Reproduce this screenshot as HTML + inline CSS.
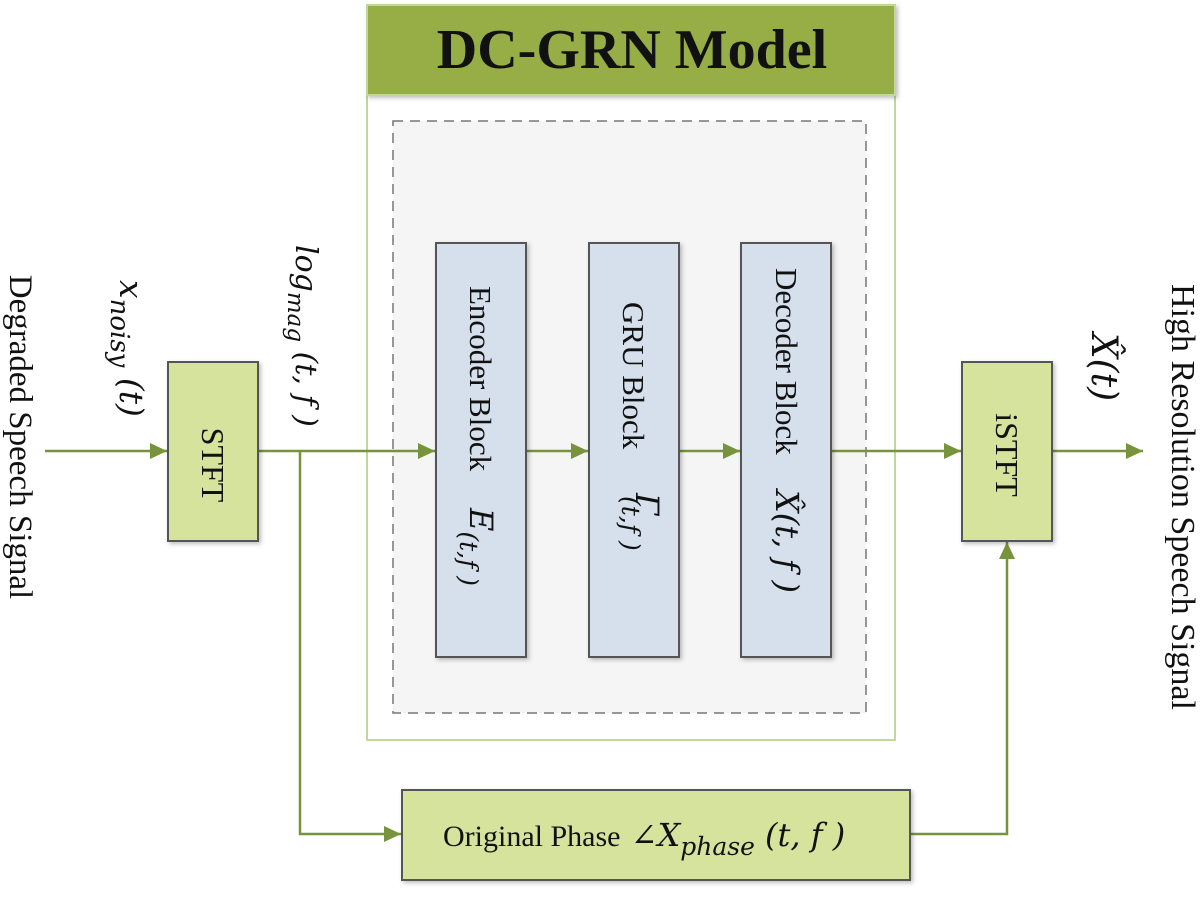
<!DOCTYPE html>
<html><head><meta charset="utf-8"><style>
html,body{margin:0;padding:0;background:#fff;}
svg{display:block;}
text{font-family:"Liberation Serif",serif;fill:#111;}
.m{font-family:"DejaVu Serif","Liberation Serif",serif;font-style:italic;}
</style></head><body>
<svg width="1200" height="897" viewBox="0 0 1200 897" xmlns="http://www.w3.org/2000/svg">
<defs>
<marker id="a" markerWidth="18" markerHeight="18" refX="17" refY="8" orient="auto" markerUnits="userSpaceOnUse">
<path d="M0,0 L17,8 L0,16 Z" fill="#77933c"/></marker>
<filter id="s" x="-10%" y="-10%" width="130%" height="130%"><feDropShadow dx="2" dy="2" stdDeviation="2" flood-color="#000" flood-opacity="0.25"/></filter>
</defs>
<rect x="367" y="95" width="528" height="645" fill="#fff" stroke="#c3d69b" stroke-width="2"/>
<rect x="367" y="5" width="528" height="90" fill="#97ad45" stroke="#c3d69b" stroke-width="2" filter="url(#s)"/>
<text x="632" y="68" font-size="56" font-weight="bold" text-anchor="middle">DC-GRN Model</text>
<rect x="393" y="121" width="473" height="592" fill="#f5f5f5" stroke="#777" stroke-width="1.5" stroke-dasharray="10,7"/>
<g stroke="#77933c" stroke-width="2.5" fill="none">
<line x1="45" y1="451" x2="167" y2="451" marker-end="url(#a)"/>
<line x1="258" y1="451" x2="435" y2="451" marker-end="url(#a)"/>
<line x1="526" y1="451" x2="588" y2="451" marker-end="url(#a)"/>
<line x1="679" y1="451" x2="740" y2="451" marker-end="url(#a)"/>
<line x1="831" y1="451" x2="961" y2="451" marker-end="url(#a)"/>
<line x1="1052" y1="451" x2="1143" y2="451" marker-end="url(#a)"/>
<polyline points="300,451 300,834 401,834" marker-end="url(#a)"/>
<polyline points="910,834 1007,834 1007,542" marker-end="url(#a)"/>
</g>
<g stroke="#555" stroke-width="2" filter="url(#s)">
<rect x="168" y="362" width="90" height="179" fill="#d6e39c"/>
<rect x="962" y="362" width="90" height="179" fill="#d6e39c"/>
<rect x="402" y="790" width="508" height="90" fill="#d6e39c"/>
<rect x="436" y="243" width="90" height="414" fill="#d5e0ec"/>
<rect x="589" y="243" width="90" height="414" fill="#d5e0ec"/>
<rect x="741" y="243" width="90" height="414" fill="#d5e0ec"/>
</g>
<text transform="translate(202,465) rotate(90)" font-size="32" text-anchor="middle">STFT</text>
<text transform="translate(996,455) rotate(90)" font-size="32" text-anchor="middle">iSTFT</text>
<text x="443" y="846" font-size="30">Original Phase<tspan class="m" font-size="32"> ∠X</tspan><tspan class="m" font-size="25" dy="9">phase</tspan><tspan class="m" font-size="32" dy="-9"> (t, f )</tspan></text>
<text transform="translate(470,286) rotate(90)" font-size="31">Encoder Block</text>
<text transform="translate(470,508) rotate(90)" class="m" font-size="32">E<tspan font-size="25" dy="10">(t,f )</tspan></text>
<text transform="translate(623,302) rotate(90)" font-size="31">GRU Block</text>
<text transform="translate(636,493) rotate(90)" class="m" font-size="32">Γ</text>
<text transform="translate(622,496) rotate(90)" class="m" font-size="25">(t,f )</text>
<text transform="translate(776,268) rotate(90)" font-size="31">Decoder Block</text>
<text transform="translate(776,490) rotate(90)" class="m" font-size="32">X̂(t, f )</text>
<text transform="translate(10,437) rotate(90)" font-size="33" text-anchor="middle">Degraded Speech Signal</text>
<text transform="translate(1172,497) rotate(90)" font-size="34" text-anchor="middle">High Resolution Speech Signal</text>
<text transform="translate(120,280) rotate(90)" class="m" font-size="33">x<tspan font-size="26" dy="9">noisy</tspan><tspan dy="-9" font-size="33"> (t)</tspan></text>
<text transform="translate(296,245) rotate(90)" class="m" font-size="30">log<tspan font-size="23" dy="8">mag</tspan><tspan dy="-8" font-size="30"> (t, f )</tspan></text>
<text transform="translate(1092,333) rotate(90)" class="m" font-size="36">X̂(t)</text>
</svg>
</body></html>
